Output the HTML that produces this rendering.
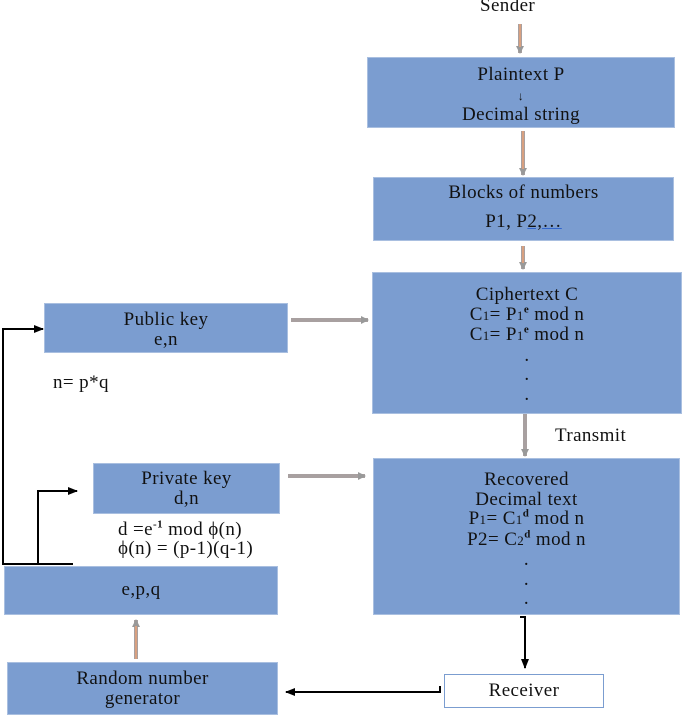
<!DOCTYPE html>
<html><head><style>
body{margin:0;width:685px;height:721px;background:#fff;position:relative;overflow:hidden;font-family:"Liberation Serif","DejaVu Serif",serif;color:#111}
.b{position:absolute;background:#7b9dd0;border:1px solid #a9bfe0;box-sizing:border-box;text-align:center;font-size:19px;line-height:20px;letter-spacing:0.4px}
.t{position:absolute;font-size:19px;line-height:20px;letter-spacing:0.4px}
sub{font-size:13px;vertical-align:0}
sup{font-size:11px;line-height:0;font-weight:bold}
svg{position:absolute;left:0;top:0}
</style></head><body>
<div class="t" style="left:480px;top:-4px">Sender</div>
<div class="b" style="left:367px;top:57px;width:308px;height:71px;padding-top:7px">Plaintext P<br><span style="font-size:12px;line-height:14px">↓</span><br>Decimal string</div>
<div class="b" style="left:373px;top:177px;width:301px;height:64px;padding-top:5px">Blocks of numbers<div style="margin-top:9px">P1, P<u style="text-decoration-color:#36c">2,…</u></div></div>
<div class="b" style="left:372px;top:272px;width:310px;height:142px;padding-top:12px;line-height:19.5px">Ciphertext C<br>C<sub>1</sub>= P<sub>1</sub><sup>e</sup> mod n<br>C<sub>1</sub>= P<sub>1</sub><sup>e</sup> mod n<br>.<br>.<br>.</div>
<div class="b" style="left:44px;top:303px;width:244px;height:50px;padding-top:6px">Public key<br>e,n</div>
<div class="t" style="left:53px;top:373px">n= p*q</div>
<div class="t" style="left:555px;top:426px">Transmit</div>
<div class="b" style="left:93px;top:463px;width:187px;height:51px;padding-top:5px">Private key<br>d,n</div>
<div class="b" style="left:373px;top:458px;width:307px;height:157px;padding-top:11px;line-height:19.5px">Recovered<br>Decimal text<br>P<sub>1</sub>= C<sub>1</sub><sup>d</sup> mod n<br>P2= C<sub>2</sub><sup>d</sup> mod n<br>.<br>.<br>.</div>
<div class="t" style="left:118px;top:520px;line-height:19px">d =e<sup>-1</sup> mod ϕ(n)<br>ϕ(n) = (p-1)(q-1)</div>
<div class="b" style="left:4px;top:566px;width:274px;height:49px;padding-top:13px">e,p,q</div>
<div class="b" style="left:7px;top:662px;width:271px;height:53px;padding-top:6px">Random number<br>generator</div>
<div class="b" style="left:444px;top:674px;width:160px;height:34px;background:#fff;border:1px solid #7b9dd0;padding-top:6px">Receiver</div>
<svg width="685" height="721">
<defs><marker id="a" markerUnits="userSpaceOnUse" markerWidth="10" markerHeight="10" refX="9" refY="5" orient="auto"><path d="M0,1L10,5L0,9z" fill="#000"/></marker>
<marker id="g" markerUnits="userSpaceOnUse" markerWidth="8" markerHeight="8" refX="7" refY="4" orient="auto"><path d="M0,0L8,4L0,8z" fill="#999"/></marker></defs>
<g stroke="#a8a0a0" stroke-width="4" fill="none" marker-end="url(#g)">
<line x1="520" y1="24" x2="520" y2="53"/>
<line x1="523" y1="131" x2="523" y2="175"/>
<line x1="523" y1="246" x2="523" y2="269"/>
<line x1="525" y1="414" x2="525" y2="456"/>
<line x1="291" y1="320" x2="368" y2="320"/>
<line x1="288" y1="476" x2="365" y2="476"/>
<line x1="136" y1="659" x2="136" y2="620"/>
</g>
<g stroke="#d8a080" stroke-width="2" fill="none">
<line x1="520" y1="24" x2="520" y2="47"/><line x1="523" y1="131" x2="523" y2="169"/><line x1="523" y1="246" x2="523" y2="263"/><line x1="136" y1="659" x2="136" y2="626"/>
</g>
<g stroke="#000" stroke-width="2" fill="none">
<polyline points="73,564 3,564 3,329 43,329" marker-end="url(#a)"/>
<polyline points="38,564 38,491 77,491" marker-end="url(#a)"/>
<polyline points="520,617 525,617 525,668" marker-end="url(#a)"/>
<polyline points="440,686 440,692 286,692" marker-end="url(#a)"/>
</g>
</svg>
</body></html>
